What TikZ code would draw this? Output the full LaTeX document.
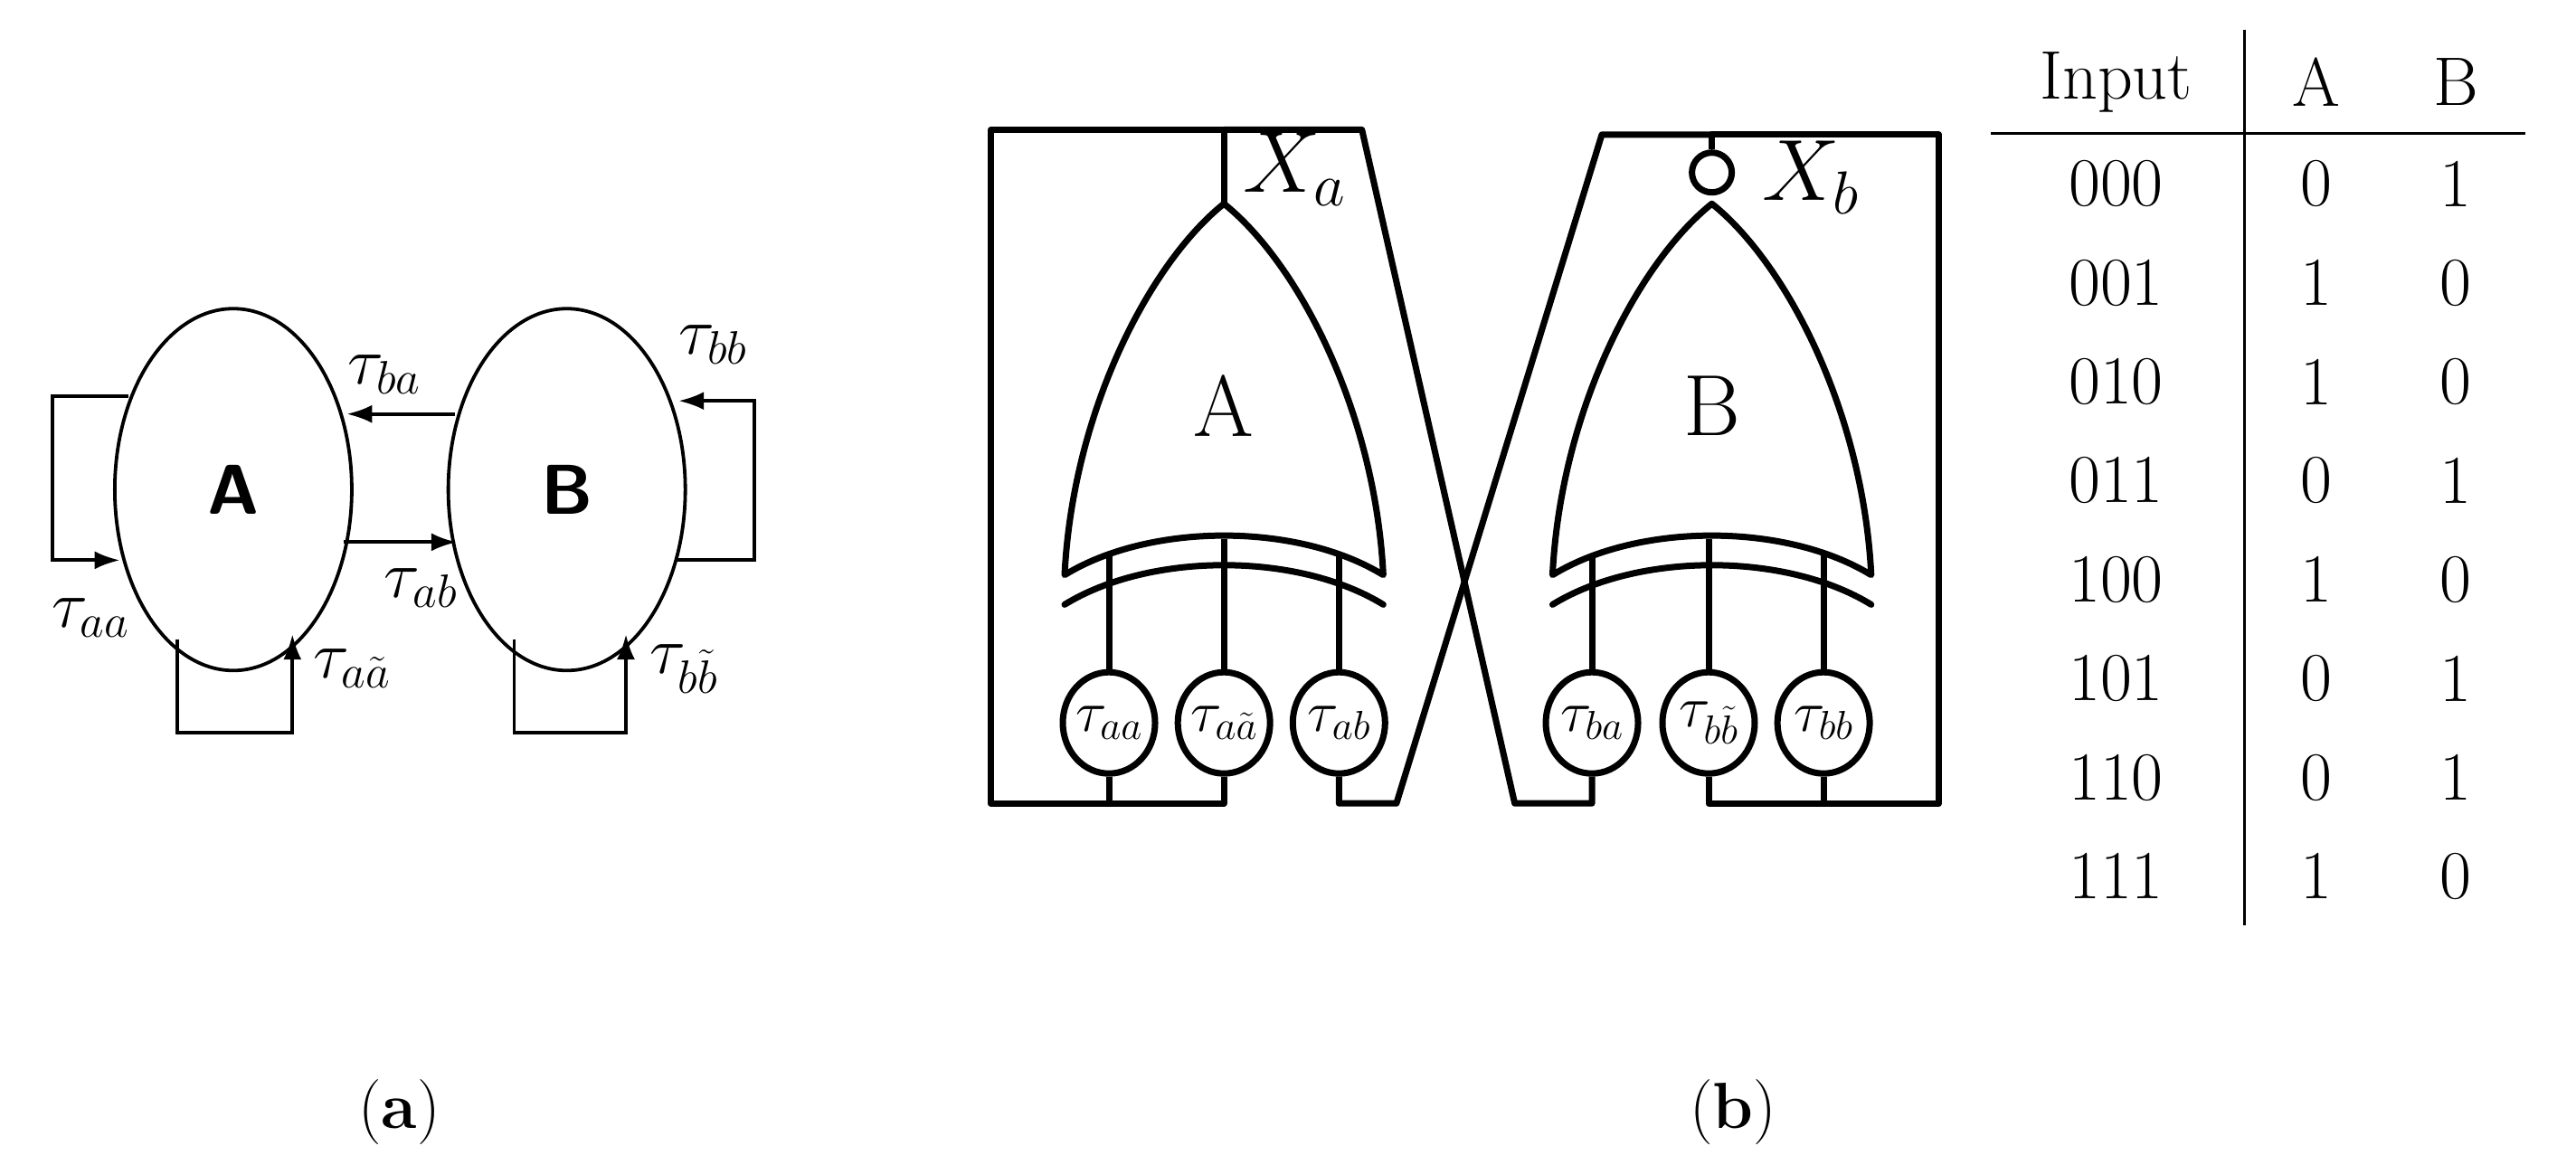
\RequirePackage{fix-cm}
\documentclass[tikz,border=0pt]{standalone}
\usetikzlibrary{arrows.meta,shapes.geometric}
\newcommand{\thinLine}{3.8pt}
\newcommand{\thickLine}{7pt}
\newcommand{\gateSpread}{97}

\begin{document}
\begin{tikzpicture}[x=1.816pt,y=-1.816pt]
\tikzstyle{stateNode}=[ellipse,draw,line width=\thinLine,minimum width=262pt,minimum height=400pt,inner sep=0pt,font=\fontsize{78}{86}\selectfont\sffamily\bfseries]
\tikzstyle{flowEdge}=[line width=\thinLine,-{Latex[length=28pt,width=20pt]}]
\tikzstyle{rateLabel}=[font=\fontsize{74}{82}\selectfont]
\tikzstyle{inputNode}=[ellipse,draw,line width=\thickLine,minimum width=102pt,minimum height=112pt,inner sep=-8pt,font=\fontsize{64}{72}\selectfont]
\tikzstyle{wire}=[line width=\thickLine]
\tikzstyle{tableText}=[font=\fontsize{76}{86}\selectfont]
\useasboundingbox (0,0) rectangle (1568,709);

% (a) state diagram
\node[stateNode] (A) at (142,298) {A};
\node[stateNode] (B) at (345,298) {B};
\coordinate (aaOut) at (78,241);
\coordinate (aaIn) at (73,341);
\draw[flowEdge] (aaOut) -- (32,241) -- (32,341) -- (aaIn);
\node[rateLabel] (aaLab) at (55,376) {$\tau_{aa}$};
\coordinate (atOut) at (108,389);
\coordinate (atIn) at (178,386);
\draw[flowEdge] (atOut) -- (108,446) -- (178,446) -- (atIn);
\node[rateLabel] (atLab) at (214,407) {$\tau_{a\tilde{a}}$};
\coordinate (baOut) at (277,252);
\coordinate (baIn) at (211,252);
\draw[flowEdge] (baOut) -- (baIn);
\node[rateLabel] (baLab) at (234,228) {$\tau_{ba}$};
\coordinate (abOut) at (209,330);
\coordinate (abIn) at (278,330);
\draw[flowEdge] (abOut) -- (abIn);
\node[rateLabel] (abLab) at (256,358) {$\tau_{ab}$};
\coordinate (bbOut) at (411,341);
\coordinate (bbIn) at (413,244);
\draw[flowEdge] (bbOut) -- (459,341) -- (459,244) -- (bbIn);
\node[rateLabel] (bbLab) at (434,210) {$\tau_{bb}$};
\coordinate (btOut) at (313,389);
\coordinate (btIn) at (381,386);
\draw[flowEdge] (btOut) -- (313,446) -- (381,446) -- (btIn);
\node[rateLabel] (btLab) at (416,407) {$\tau_{b\tilde{b}}$};
\node[font=\fontsize{72}{80}\selectfont] (capA) at (243,677) {(\textbf{a})};

% (b) gate circuit
\foreach \gx/\gname in {745/A,1042/B}{
  \draw[wire,line join=round] (\gx,124) .. controls (\gx-45,160) and (\gx-92,250) .. (\gx-\gateSpread,350)
    .. controls (\gx-45,318) and (\gx+45,318) .. (\gx+\gateSpread,350)
    .. controls (\gx+92,250) and (\gx+45,160) .. cycle;
  \draw[wire,line cap=round] (\gx-\gateSpread,368) .. controls (\gx-45,336) and (\gx+45,336) .. (\gx+\gateSpread,368);
  \node[font=\fontsize{96}{104}\selectfont] (gate\gname) at (\gx,247) {\gname};
}
\node[inputNode] (tAA) at (675,440) {$\tau_{aa}$};
\node[inputNode] (tAT) at (745,440) {$\tau_{a\tilde{a}}$};
\node[inputNode] (tAB) at (815,440) {$\tau_{ab}$};
\node[inputNode] (tBA) at (969,440) {$\tau_{ba}$};
\node[inputNode] (tBT) at (1040,440) {$\tau_{b\tilde{b}}$};
\node[inputNode] (tBB) at (1110,440) {$\tau_{bb}$};
\foreach \n/\gx/\gy in {tAA/675/337,tAT/745/328,tAB/815/337,tBA/969/337,tBT/1040/328,tBB/1110/337}{
  \draw[wire] (\gx,\gy) -- (\n.north);
}
\node[circle,draw,line width=\thickLine,minimum size=44pt,inner sep=0pt] (notB) at (1042,105) {};
\node[font=\fontsize{96}{104}\selectfont] (Xa) at (788,103) {$X_a$};
\node[font=\fontsize{96}{104}\selectfont] (Xb) at (1102,108) {$X_b$};
\draw[wire,line join=round] (745,124) -- (745,79) -- (603,79) -- (603,489) -- (745,489) -- (tAT.south);
\draw[wire] (tAA.south) -- (675,489);
\draw[wire,line join=round] (745,79) -- (829,79) -- (922,489) -- (969,489) -- (tBA.south);
\draw[wire,line join=round] (notB.north) -- (1042,82) -- (1180,82) -- (1180,489) -- (1040,489) -- (tBT.south);
\draw[wire] (tBB.south) -- (1110,489);
\draw[wire,line join=round] (1042,82) -- (975,82) -- (850,489) -- (815,489) -- (tAB.south);
\node[font=\fontsize{72}{80}\selectfont] (capB) at (1055,677) {(\textbf{b})};

% truth table
\node[tableText] (hIn) at (1288,50) {Input};
\node[tableText] (hA) at (1410,50) {A};
\node[tableText] (hB) at (1495,50) {B};
\draw[line width=2.8pt] (1212,81) -- (1537,81);
\draw[line width=2.8pt] (1366,18) -- (1366,563);
\foreach \row/\bits/\va/\vb in {0/000/0/1,1/001/1/0,2/010/1/0,3/011/0/1,4/100/1/0,5/101/0/1,6/110/0/1,7/111/1/0}{
  \node[tableText] (in\row) at (1288,112+60.2*\row) {\bits};
  \node[tableText] (a\row) at (1410,112+60.2*\row) {\va};
  \node[tableText] (b\row) at (1495,112+60.2*\row) {\vb};
}
\end{tikzpicture}
\end{document}
